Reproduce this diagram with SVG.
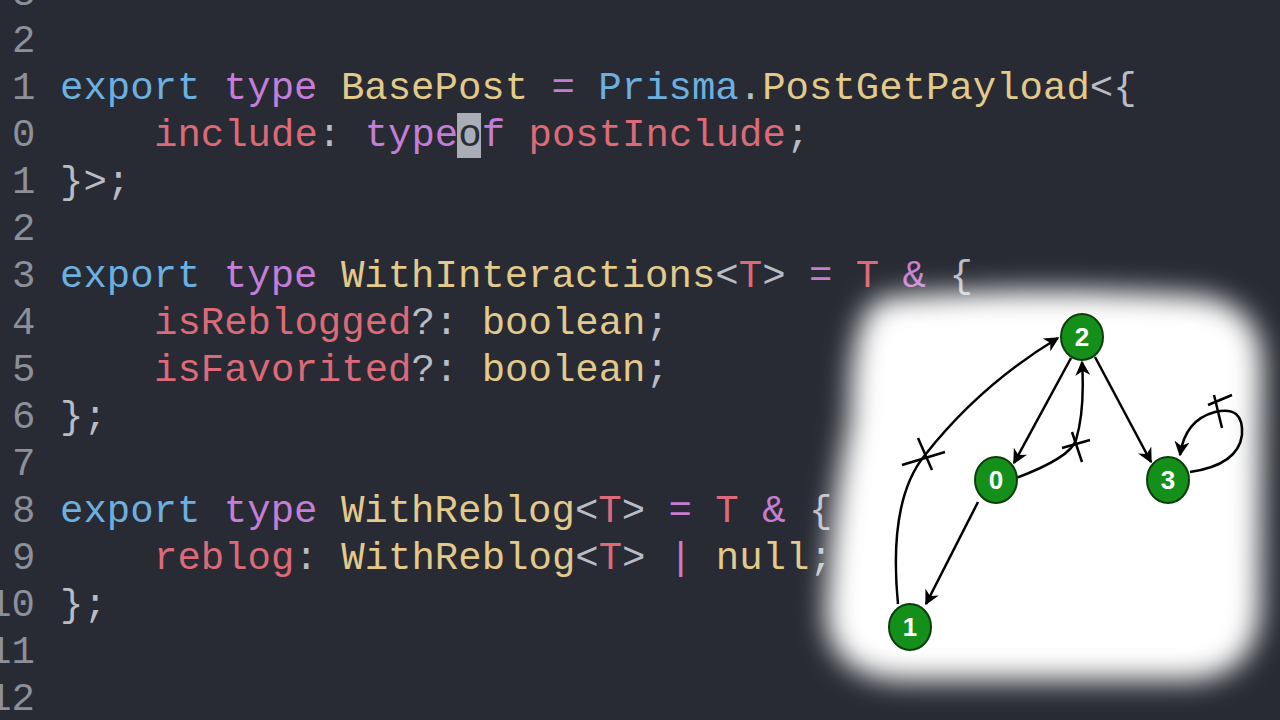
<svg xmlns="http://www.w3.org/2000/svg" width="1280" height="720" viewBox="0 0 1280 720">
<defs>
<style>
.c{font-family:"Liberation Mono","DejaVu Sans Mono",monospace;font-size:39px;white-space:pre}
.n{fill:#8b9099}.b{fill:#6cb0e0}.p{fill:#c47ed8}.y{fill:#e2c98c}.r{fill:#dc6a78}.g{fill:#b8bcc4}.pk{fill:#c77dcf}
.e{fill:none;stroke:#000;stroke-width:2.5}
.node{fill:#14901a;stroke:#0d3d0d;stroke-width:2}
.lbl{font-family:"Liberation Sans",Arial,sans-serif;font-weight:bold;font-size:26px;fill:#fff;text-anchor:middle}
</style>
<filter id="blur" x="-20%" y="-20%" width="140%" height="140%"><feGaussianBlur stdDeviation="14"/></filter>
<marker id="ah" viewBox="0 0 10 10" refX="9" refY="5" markerWidth="6" markerHeight="6" orient="auto"><path d="M0,0 L10,5 L0,10 L3,5 z" fill="#000"/></marker>
</defs>
<rect width="1280" height="720" fill="#282b33"/>
<g class="c">
<text x="12" y="5" class="n">3</text>
<text x="12" y="52" class="n">2</text>
<text x="12" y="99"><tspan class="n">1</tspan><tspan x="60" class="b">export</tspan> <tspan class="p">type</tspan> <tspan class="y">BasePost</tspan> <tspan class="pk">=</tspan> <tspan class="b">Prisma</tspan><tspan class="g">.</tspan><tspan class="y">PostGetPayload</tspan><tspan class="g">&lt;{</tspan></text>
<rect x="457" y="113" width="24" height="45" fill="#a9adb5"/>
<text x="12" y="146"><tspan class="n">0</tspan><tspan x="154" class="r">include</tspan><tspan class="g">:</tspan> <tspan class="p">type</tspan><tspan fill="#2a2d35">o</tspan><tspan class="p">f</tspan> <tspan class="r">postInclude</tspan><tspan class="g">;</tspan></text>
<text x="12" y="193"><tspan class="n">1</tspan><tspan x="60" class="g">}&gt;;</tspan></text>
<text x="12" y="240" class="n">2</text>
<text x="12" y="287"><tspan class="n">3</tspan><tspan x="60" class="b">export</tspan> <tspan class="p">type</tspan> <tspan class="y">WithInteractions</tspan><tspan class="g">&lt;</tspan><tspan class="r">T</tspan><tspan class="g">&gt;</tspan> <tspan class="pk">=</tspan> <tspan class="r">T</tspan> <tspan class="pk">&amp;</tspan> <tspan class="g">{</tspan></text>
<text x="12" y="334"><tspan class="n">4</tspan><tspan x="154" class="r">isReblogged</tspan><tspan class="g">?:</tspan> <tspan class="y">boolean</tspan><tspan class="g">;</tspan></text>
<text x="12" y="381"><tspan class="n">5</tspan><tspan x="154" class="r">isFavorited</tspan><tspan class="g">?:</tspan> <tspan class="y">boolean</tspan><tspan class="g">;</tspan></text>
<text x="12" y="428"><tspan class="n">6</tspan><tspan x="60" class="g">};</tspan></text>
<text x="12" y="475" class="n">7</text>
<text x="12" y="522"><tspan class="n">8</tspan><tspan x="60" class="b">export</tspan> <tspan class="p">type</tspan> <tspan class="y">WithReblog</tspan><tspan class="g">&lt;</tspan><tspan class="r">T</tspan><tspan class="g">&gt;</tspan> <tspan class="pk">=</tspan> <tspan class="r">T</tspan> <tspan class="pk">&amp;</tspan> <tspan class="g">{</tspan></text>
<text x="12" y="569"><tspan class="n">9</tspan><tspan x="154" class="r">reblog</tspan><tspan class="g">:</tspan> <tspan class="y">WithReblog</tspan><tspan class="g">&lt;</tspan><tspan class="r">T</tspan><tspan class="g">&gt;</tspan> <tspan class="pk">|</tspan> <tspan class="y">null</tspan><tspan class="g">;</tspan></text>
<text x="-12" y="616"><tspan class="n">10</tspan><tspan x="60" class="g">};</tspan></text>
<text x="-12" y="663" class="n">11</text>
<text x="-12" y="710" class="n">12</text>
</g>
<g filter="url(#blur)" fill="#fff">
<path d="M885,298 Q1030,284 1200,296 Q1264,306 1262,370 L1260,610 Q1256,676 1190,680 L900,680 Q830,676 826,615 Q832,500 850,420 Q850,305 885,298 Z"/>
<path d="M900,318 Q1030,304 1190,316 Q1240,322 1240,370 L1238,600 Q1234,655 1185,658 L905,658 Q850,654 850,605 Q855,500 870,420 Q870,325 900,318 Z"/>
</g>
<g id="connectors">
<path class="e" d="M898,604 Q888,500 925,455 Q980,385 1058,338" marker-end="url(#ah)"/>
<path class="e" d="M1071,358 L1014,463" marker-end="url(#ah)"/>
<path class="e" d="M1016,478 Q1070,458 1076,440 Q1085,410 1082,362" marker-end="url(#ah)"/>
<path class="e" d="M1095,357 L1151,462" marker-end="url(#ah)"/>
<path class="e" d="M978,502 L926,604" marker-end="url(#ah)"/>
<path class="e" d="M1190,472 Q1238,465 1242,435 Q1244,405 1215,412 Q1185,420 1180,455" marker-end="url(#ah)"/>
<path class="e" d="M902,465 L945,452 M918,438 L932,470"/>
<path class="e" d="M1062,448 L1090,440 M1072,432 L1082,462"/>
<path class="e" d="M1208,405 L1232,395 M1214,395 L1222,428"/>
</g>
<g id="n2"><ellipse class="node" cx="1082" cy="337" rx="21" ry="23"/><text class="lbl" x="1082" y="346">2</text></g>
<g id="n0"><ellipse class="node" cx="996" cy="480" rx="21" ry="23"/><text class="lbl" x="996" y="489">0</text></g>
<g id="n3"><ellipse class="node" cx="1168" cy="480" rx="21" ry="23"/><text class="lbl" x="1168" y="489">3</text></g>
<g id="n1"><ellipse class="node" cx="910" cy="627" rx="21" ry="23"/><text class="lbl" x="910" y="636">1</text></g>
</svg>
